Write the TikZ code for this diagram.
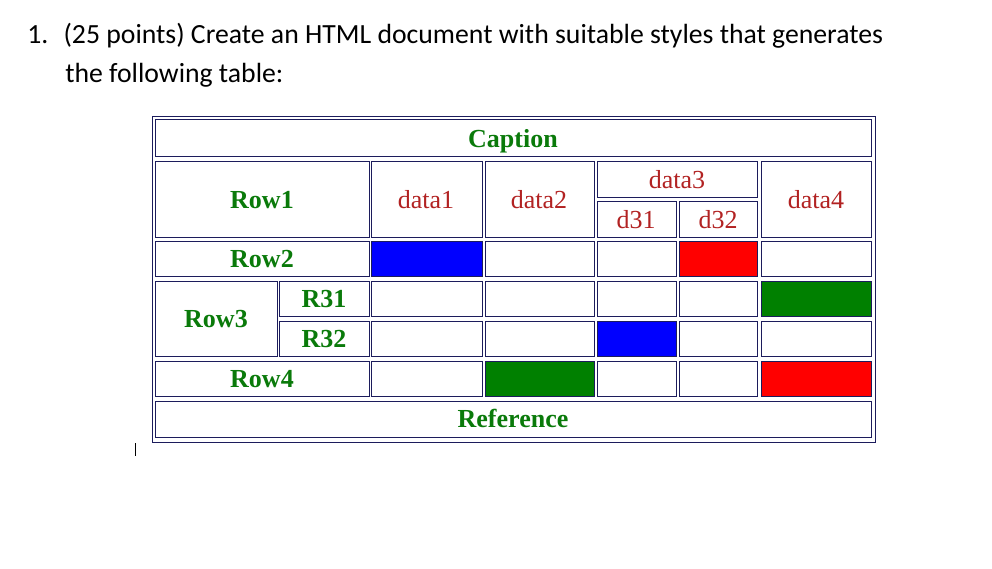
\documentclass[tikz,border=0pt]{standalone}
\usepackage{fontspec}
\setmainfont{Liberation Serif}
\newfontfamily\calib{Carlito}
\definecolor{bd}{HTML}{1C1C5C}
\definecolor{tg}{HTML}{0A7A0A}
\definecolor{tr}{HTML}{B22222}
\definecolor{fb}{HTML}{0000FF}
\definecolor{fr}{HTML}{FF0000}
\definecolor{fg}{HTML}{008000}
\newcommand\tcell[7]{%
  \node[cellbox, fill=#6, minimum width={(#4-#2)*0.75pt}, minimum height={(#5-#3)*0.75pt}] (#1) at ({(#2+#4)/2},{(#3+#5)/2}) {#7};}
\begin{document}
\begin{tikzpicture}[x=0.75pt,y=-0.75pt,
  cellbox/.style={draw=bd, line width=0.55pt, inner sep=0pt, outer sep=0pt},
  hd/.style={text=tg, font=\bfseries\fontsize{19.5}{22}\selectfont},
  dt/.style={text=tr, font=\fontsize{19.5}{22}\selectfont}]
\useasboundingbox[fill=white] (0,0) rectangle (992,568);
\node[anchor=base west, inner sep=0pt, font=\calib\fontsize{20.8}{24}\selectfont] (t1) at (27,43) {1.\hspace{0.55em}(25 points) Create an HTML document with suitable styles that generates};
\node[anchor=base west, inner sep=0pt, font=\calib\fontsize{20.8}{24}\selectfont] (t2) at (65,82) {the following table:};
\node[draw=bd, line width=0.55pt, minimum width={723*0.75pt}, minimum height={326*0.75pt}, inner sep=0pt] (tab) at (513.5,279) {};
\tcell{cap}{155}{119}{871}{156}{white}{}
\node[hd, anchor=base] at (513,147) {Caption};
\tcell{r1}{155}{161}{369}{237}{white}{}
\node[hd, anchor=base] at (262,208) {Row1};
\tcell{d1}{371}{161}{482}{237}{white}{}
\node[dt, anchor=base] at (426,208) {data1};
\tcell{d2}{485}{161}{594}{237}{white}{}
\node[dt, anchor=base] at (539,208) {data2};
\tcell{d3}{597}{161}{757}{197}{white}{}
\node[dt, anchor=base] at (677,188) {data3};
\tcell{d31}{597}{201}{676}{237}{white}{}
\node[dt, anchor=base] at (636,228) {d31};
\tcell{d32}{679}{201}{757}{237}{white}{}
\node[dt, anchor=base] at (718,228) {d32};
\tcell{d4}{761}{161}{871}{237}{white}{}
\node[dt, anchor=base] at (816,208) {data4};
% row2
\tcell{r2}{155}{241}{369}{276}{white}{}
\node[hd, anchor=base] at (262,267) {Row2};
\tcell{a21}{371}{241}{482}{276}{fb}{}
\tcell{a22}{485}{241}{594}{276}{white}{}
\tcell{a23}{597}{241}{676}{276}{white}{}
\tcell{a24}{679}{241}{757}{276}{fr}{}
\tcell{a25}{761}{241}{871}{276}{white}{}
% row3
\tcell{r3}{155}{281}{277}{356}{white}{}
\node[hd, anchor=base] at (216,327) {Row3};
\tcell{r31}{279}{281}{369}{316}{white}{}
\node[hd, anchor=base] at (324,307) {R31};
\tcell{a31}{371}{281}{482}{316}{white}{}
\tcell{a32}{485}{281}{594}{316}{white}{}
\tcell{a33}{597}{281}{676}{316}{white}{}
\tcell{a34}{679}{281}{757}{316}{white}{}
\tcell{a35}{761}{281}{871}{316}{fg}{}
\tcell{r32}{279}{321}{369}{356}{white}{}
\node[hd, anchor=base] at (324,347) {R32};
\tcell{b31}{371}{321}{482}{356}{white}{}
\tcell{b32}{485}{321}{594}{356}{white}{}
\tcell{b33}{597}{321}{676}{356}{fb}{}
\tcell{b34}{679}{321}{757}{356}{white}{}
\tcell{b35}{761}{321}{871}{356}{white}{}
% row4
\tcell{r4}{155}{361}{369}{396}{white}{}
\node[hd, anchor=base] at (262,387) {Row4};
\tcell{a41}{371}{361}{482}{396}{white}{}
\tcell{a42}{485}{361}{594}{396}{fg}{}
\tcell{a43}{597}{361}{676}{396}{white}{}
\tcell{a44}{679}{361}{757}{396}{white}{}
\tcell{a45}{761}{361}{871}{396}{fr}{}
% reference
\tcell{ref}{155}{401}{871}{437}{white}{}
\node[hd, anchor=base] at (513,427) {Reference};
\coordinate (cu1) at (135,443); \coordinate (cu2) at (135,456);
\draw[line width=0.6pt] (cu1) -- (cu2);
\end{tikzpicture}
\end{document}
